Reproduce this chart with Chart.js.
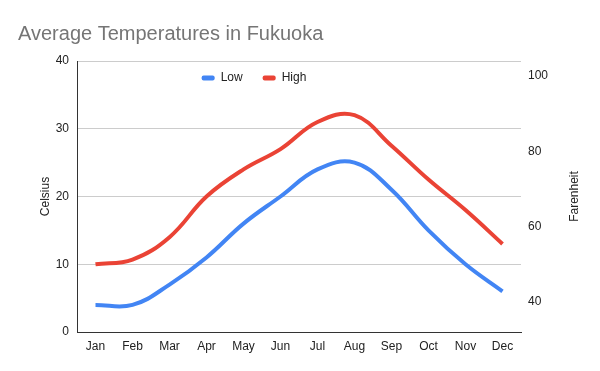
<!DOCTYPE html>
<html>
<head>
<meta charset="utf-8">
<script src="https://cdn.jsdelivr.net/npm/chart.js@4/dist/chart.umd.min.js"></script>
<style>
  html, body { margin: 0; padding: 0; background: #fff; }
  #wrap { width: 600px; height: 371px; }
</style>
</head>
<body>
<div id="wrap"><canvas id="tempChart"></canvas></div>
<script>
"use strict";
// ========== DATA ========== //
const months = ["Jan", "Feb", "Mar", "Apr", "May", "Jun", "Jul", "Aug", "Sep", "Oct", "Nov", "Dec"];
const lowTemps = [4, 4, 7, 11, 16, 20, 24, 25, 21, 15, 10, 6];
const highTemps = [10, 10.7, 14, 20, 24, 27, 31, 32, 27.5, 22.5, 18, 13];
const celsiusTicks = [0, 10, 20, 30, 40];
const fahrenheitTicks = [40, 60, 80, 100];

const FONT = "Arial, 'Liberation Sans', sans-serif";

// legend sits inside the plot, in one row, without taking layout space
const legendInPlot = {
  id: "legendInPlot",
  afterInit(chart) {
    const lg = chart.legend;
    const fit = lg.fit.bind(lg);
    lg.fit = function () { fit(); this.height = 0; };
  },
  beforeDraw(chart) {
    const lg = chart.legend;
    lg.left = 100;
    lg.right = 408;
    lg.top = 52;
    lg.bottom = 96;
  }
};

// right axis title reads bottom-to-top, like the left one
const rightTitle = {
  id: "rightTitle",
  afterDraw(chart) {
    const scale = chart.scales.y2;
    const ctx = chart.ctx;
    ctx.save();
    ctx.translate(575, (chart.chartArea.top + chart.chartArea.bottom) / 2);
    ctx.rotate(-Math.PI / 2);
    ctx.fillStyle = "#222";
    ctx.font = "12px " + FONT;
    ctx.textAlign = "center";
    ctx.textBaseline = "middle";
    ctx.fillText(scale.options.title.text, 0, 0);
    ctx.restore();
  }
};

let chartContainer = document.querySelector("#tempChart");
let chart = new Chart(chartContainer, {
  type: "line",
  data: {
    labels: months,
    datasets: [
      {
        label: "Low",
        data: lowTemps,
        borderColor: "#4285F4",
        backgroundColor: "#4285F4",
        borderWidth: 4,
        tension: 0.4,
        pointRadius: 0,
        fill: false,
        yAxisID: "y"
      },
      {
        label: "High",
        data: highTemps,
        borderColor: "#EA4335",
        backgroundColor: "#EA4335",
        borderWidth: 4,
        tension: 0.4,
        pointRadius: 0,
        fill: false,
        yAxisID: "y"
      }
    ]
  },
  options: {
    responsive: true,
    maintainAspectRatio: false,
    animation: false,
    layout: { padding: { left: 18, right: 0, top: 0, bottom: 0 } },
    plugins: {
      title: {
        display: true,
        text: "Average Temperatures in Fukuoka",
        align: "start",
        color: "#757575",
        font: { family: FONT, size: 20, weight: "normal" },
        padding: { top: 22, bottom: 15 }
      },
      legend: {
        position: "top",
        align: "center",
        labels: {
          color: "#222",
          font: { family: FONT, size: 12 },
          boxWidth: 13,
          boxHeight: 5,
          padding: 20,
          useBorderRadius: true,
          borderRadius: 2,
          generateLabels(chart) {
            const items = Chart.defaults.plugins.legend.labels.generateLabels(chart);
            items.forEach(item => { item.lineWidth = 0; });
            return items;
          }
        }
      },
      tooltip: { enabled: false }
    },
    scales: {
      x: {
        offset: true,
        grid: { display: false, drawTicks: false },
        border: { display: true, color: "#333", width: 1 },
        ticks: { color: "#222", font: { family: FONT, size: 12 }, padding: 7, maxRotation: 0 },
        afterFit(scale) { scale.height = 39; }
      },
      y: {
        position: "left",
        min: 0,
        max: 40,
        afterBuildTicks(scale) { scale.ticks = celsiusTicks.map(v => ({ value: v })); },
        grid: { color: "#cccccc", drawTicks: false },
        border: { display: true, color: "#333", width: 1 },
        ticks: { color: "#222", font: { family: FONT, size: 12 }, padding: 8 },
        title: {
          display: true,
          text: "Celsius",
          color: "#222",
          font: { family: FONT, size: 12 },
          padding: { top: 20, bottom: 0 }
        },
        afterFit(scale) { scale.width = 59; }
      },
      y2: {
        position: "right",
        min: 32,
        max: 104,
        afterBuildTicks(scale) { scale.ticks = fahrenheitTicks.map(v => ({ value: v })); },
        grid: { display: false, drawTicks: false },
        border: { display: false },
        ticks: { color: "#222", font: { family: FONT, size: 12 }, padding: 7 },
        title: { display: false, text: "Farenheit" },
        afterFit(scale) { scale.width = 79; }
      }
    }
  },
  plugins: [legendInPlot, rightTitle]
});
</script>
</body>
</html>
